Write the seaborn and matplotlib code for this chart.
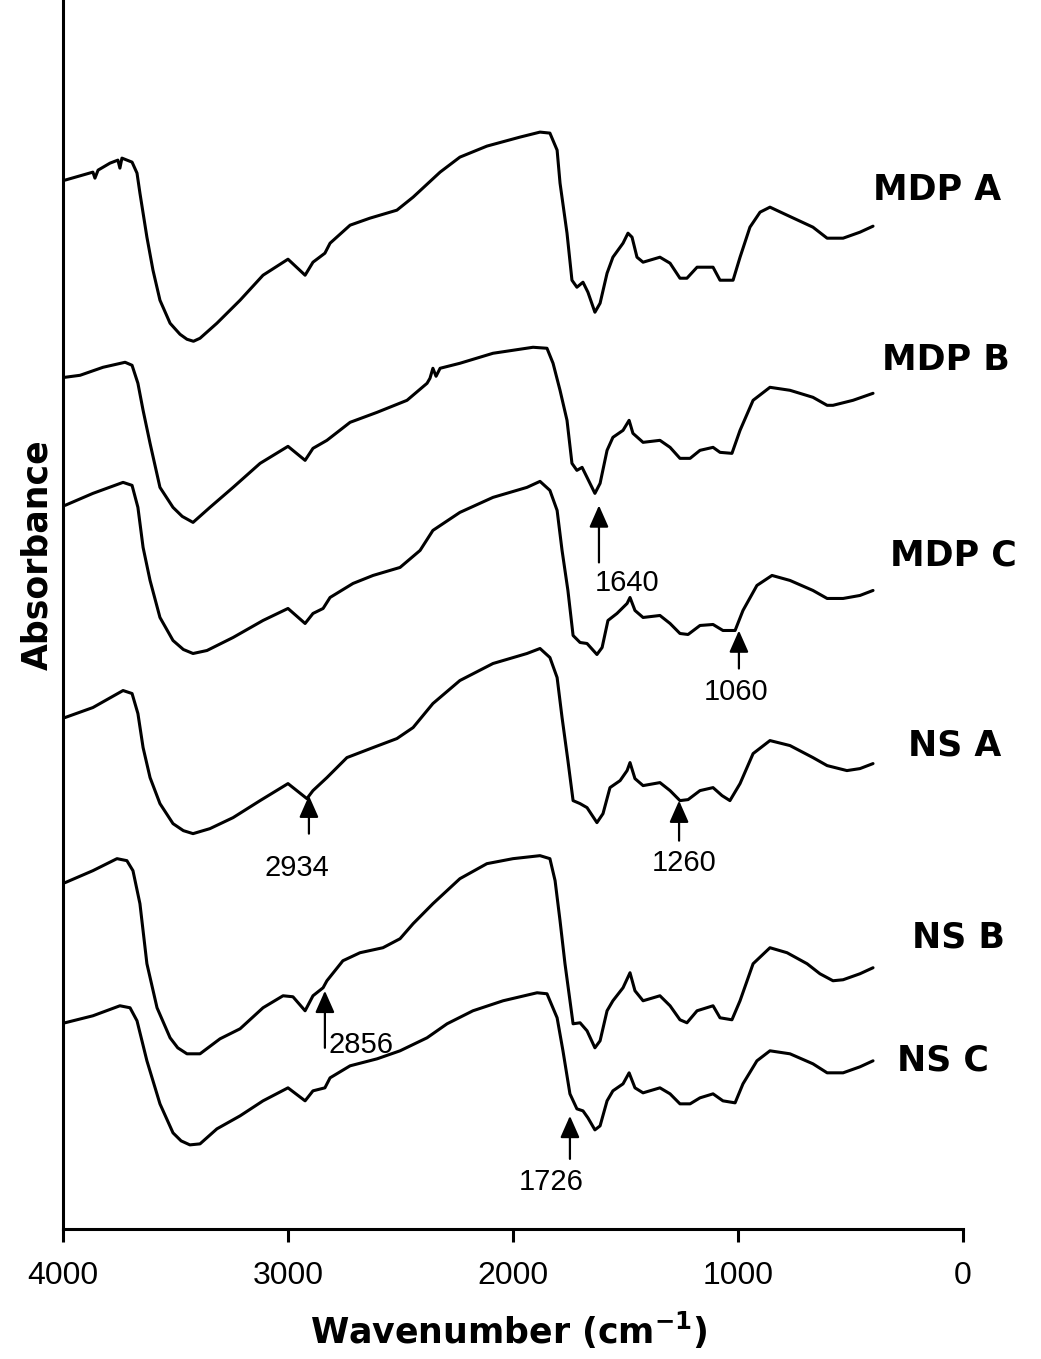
import pandas as pd
import matplotlib
matplotlib.use("Agg")
import matplotlib.pyplot as plt
import seaborn as sns

# FTIR spectra (wavenumber in cm-1, absorbance in arbitrary offset units)
mdp_a_wn = [3991, 3867, 3858, 3844, 3791, 3756, 3747, 3738, 3693, 3671, 3658, 3627, 3600, 3569, 3524,
            3480, 3449, 3420, 3391, 3316, 3213, 3111, 3000, 2924, 2889, 2836, 2813, 2724, 2636, 2516, 2444, 2324,
            2236, 2116, 1969, 1880, 1836, 1804, 1791, 1760, 1738, 1716, 1689, 1667, 1636, 1613, 1582,
            1556, 1511, 1489, 1471, 1449, 1422, 1347, 1302, 1258, 1227, 1182, 1111, 1080, 1022, 991,
            947, 902, 858, 782, 667, 604, 533, 458, 400]
mdp_a_abs = [10.48, 10.56, 10.50, 10.58, 10.65, 10.68, 10.60, 10.70, 10.66, 10.55, 10.35, 9.91, 9.58, 9.28, 9.05,
             8.94, 8.89, 8.87, 8.90, 9.05, 9.28, 9.53, 9.69, 9.53, 9.66, 9.75, 9.85, 10.03, 10.10, 10.18, 10.31, 10.56,
             10.71, 10.82, 10.91, 10.96, 10.95, 10.78, 10.45, 9.95, 9.48, 9.41, 9.46, 9.36, 9.16, 9.25, 9.55,
             9.71, 9.85, 9.95, 9.91, 9.71, 9.66, 9.71, 9.65, 9.50, 9.50, 9.61, 9.61, 9.48, 9.48, 9.71,
             10.01, 10.16, 10.21, 10.13, 10.01, 9.90, 9.90, 9.96, 10.02]

mdp_b_wn = [3991, 3924, 3822, 3724, 3693, 3667, 3644, 3613, 3569, 3511, 3470, 3422, 3347, 3244, 3124, 3000,
            2924, 2889, 2827, 2724, 2604, 2471, 2382, 2369, 2356, 2342, 2324, 2236, 2089, 1911, 1849,
            1822, 1791, 1760, 1738, 1716, 1693, 1671, 1636, 1613, 1582, 1556, 1511, 1484, 1467, 1422,
            1347, 1302, 1258, 1213, 1169, 1111, 1080, 1027, 991, 933, 858, 769, 667, 604, 578, 489, 400]
mdp_b_abs = [8.51, 8.53, 8.61, 8.66, 8.63, 8.45, 8.18, 7.85, 7.41, 7.21, 7.12, 7.06, 7.21, 7.41, 7.65, 7.82,
             7.68, 7.80, 7.88, 8.06, 8.16, 8.28, 8.45, 8.50, 8.60, 8.52, 8.60, 8.65, 8.75, 8.81, 8.80,
             8.65, 8.38, 8.08, 7.65, 7.58, 7.61, 7.51, 7.35, 7.45, 7.78, 7.91, 7.98, 8.08, 7.95, 7.86,
             7.88, 7.81, 7.70, 7.70, 7.78, 7.81, 7.76, 7.75, 7.98, 8.28, 8.41, 8.38, 8.31, 8.23, 8.23, 8.28, 8.35]

mdp_c_wn = [3991, 3867, 3733, 3693, 3667, 3644, 3613, 3569, 3511, 3465, 3422, 3360, 3244, 3111, 3000, 2924,
            2889, 2844, 2813, 2711, 2622, 2502, 2413, 2356, 2236, 2089, 1938, 1880, 1836, 1804, 1782,
            1756, 1733, 1702, 1671, 1627, 1604, 1578, 1538, 1493, 1480, 1458, 1422, 1347, 1302, 1258,
            1222, 1169, 1111, 1067, 1013, 978, 916, 849, 769, 667, 604, 533, 458, 400]
mdp_c_abs = [7.23, 7.35, 7.46, 7.43, 7.21, 6.81, 6.48, 6.11, 5.88, 5.79, 5.75, 5.78, 5.91, 6.08, 6.20, 6.05,
             6.15, 6.20, 6.31, 6.45, 6.53, 6.61, 6.78, 6.98, 7.16, 7.31, 7.41, 7.47, 7.38, 7.18, 6.78,
             6.38, 5.93, 5.86, 5.85, 5.74, 5.81, 6.08, 6.15, 6.25, 6.31, 6.18, 6.11, 6.13, 6.05, 5.95,
             5.94, 6.03, 6.04, 5.98, 5.98, 6.18, 6.43, 6.53, 6.48, 6.38, 6.30, 6.30, 6.33, 6.38]

ns_a_wn = [3991, 3867, 3733, 3693, 3667, 3644, 3613, 3569, 3511, 3465, 3422, 3347, 3244, 3124, 3000, 2916,
           2889, 2827, 2738, 2622, 2516, 2444, 2356, 2236, 2089, 1938, 1880, 1836, 1804, 1782, 1756,
           1733, 1702, 1671, 1627, 1600, 1569, 1524, 1493, 1480, 1458, 1422, 1347, 1302, 1258, 1222,
           1169, 1111, 1071, 1036, 991, 933, 858, 769, 667, 604, 516, 458, 400]
ns_a_abs = [5.11, 5.21, 5.38, 5.35, 5.15, 4.81, 4.51, 4.25, 4.05, 3.98, 3.95, 4.00, 4.11, 4.28, 4.45, 4.30,
            4.38, 4.51, 4.71, 4.81, 4.90, 5.01, 5.25, 5.48, 5.65, 5.75, 5.80, 5.71, 5.51, 5.11, 4.68,
            4.28, 4.25, 4.21, 4.06, 4.15, 4.41, 4.48, 4.58, 4.66, 4.50, 4.43, 4.46, 4.38, 4.28, 4.29,
            4.38, 4.41, 4.33, 4.28, 4.45, 4.75, 4.88, 4.83, 4.71, 4.63, 4.58, 4.60, 4.65]

ns_b_wn = [3991, 3867, 3760, 3716, 3689, 3658, 3627, 3582, 3524, 3490, 3449, 3391, 3302, 3213, 3111, 3022,
           2978, 2924, 2889, 2844, 2827, 2756, 2680, 2578, 2502, 2444, 2356, 2236, 2116, 2000, 1880,
           1836, 1813, 1791, 1769, 1733, 1702, 1671, 1636, 1613, 1582, 1556, 1511, 1480, 1458, 1422,
           1347, 1302, 1258, 1227, 1182, 1111, 1080, 1027, 991, 933, 858, 782, 693, 636, 578, 533, 458, 400]
ns_b_abs = [3.46, 3.58, 3.70, 3.68, 3.58, 3.25, 2.65, 2.21, 1.91, 1.81, 1.75, 1.75, 1.90, 2.00, 2.21, 2.33,
            2.32, 2.18, 2.33, 2.41, 2.48, 2.68, 2.76, 2.81, 2.90, 3.05, 3.25, 3.50, 3.65, 3.70, 3.73,
            3.70, 3.48, 3.08, 2.65, 2.05, 2.06, 1.98, 1.81, 1.88, 2.18, 2.28, 2.41, 2.56, 2.38, 2.28,
            2.33, 2.23, 2.09, 2.06, 2.18, 2.23, 2.11, 2.09, 2.28, 2.65, 2.81, 2.76, 2.65, 2.55, 2.48, 2.49, 2.55, 2.61]

ns_c_wn = [3991, 3867, 3747, 3702, 3671, 3627, 3569, 3511, 3475, 3436, 3391, 3316, 3213, 3111, 3000, 2924,
           2889, 2836, 2813, 2724, 2604, 2502, 2382, 2293, 2178, 2044, 1893, 1849, 1804, 1778, 1747,
           1716, 1689, 1667, 1636, 1613, 1582, 1556, 1511, 1484, 1458, 1422, 1347, 1302, 1258, 1213,
           1169, 1111, 1067, 1013, 978, 916, 858, 769, 667, 604, 533, 458, 400]
ns_c_abs = [2.06, 2.13, 2.23, 2.21, 2.08, 1.68, 1.25, 0.96, 0.88, 0.84, 0.85, 1.00, 1.13, 1.28, 1.41, 1.28,
            1.38, 1.41, 1.51, 1.63, 1.70, 1.78, 1.91, 2.05, 2.18, 2.28, 2.36, 2.35, 2.11, 1.78, 1.35,
            1.20, 1.18, 1.11, 0.99, 1.03, 1.28, 1.38, 1.45, 1.56, 1.41, 1.36, 1.41, 1.35, 1.25, 1.25,
            1.31, 1.35, 1.28, 1.26, 1.45, 1.68, 1.78, 1.75, 1.65, 1.56, 1.56, 1.62, 1.68]

sample_names = ["MDP A", "MDP B", "MDP C", "NS A", "NS B", "NS C"]

# marked bands: label, arrow x (cm-1), arrow tip height
peak_labels = ["1640", "1060", "2934", "1260", "2856", "1726"]
peak_wn = [1618, 996, 2907, 1262, 2836, 1747]
peak_tip = [7.23, 5.98, 4.33, 4.28, 2.38, 1.13]

# build long table
frames = []
for name, wn, ab in zip(sample_names,
                        [mdp_a_wn, mdp_b_wn, mdp_c_wn, ns_a_wn, ns_b_wn, ns_c_wn],
                        [mdp_a_abs, mdp_b_abs, mdp_c_abs, ns_a_abs, ns_b_abs, ns_c_abs]):
    frames.append(pd.DataFrame({"wavenumber": wn, "absorbance": ab, "sample": name}))
df = pd.concat(frames, ignore_index=True)

sns.set_style("white")
plt.rcParams["font.family"] = ["Liberation Sans", "DejaVu Sans"]
plt.rcParams["mathtext.default"] = "regular"
plt.rcParams["text.color"] = "black"
plt.rcParams["xtick.color"] = "black"
plt.rcParams["axes.labelcolor"] = "black"
plt.rcParams["lines.solid_joinstyle"] = "round"

fig = plt.figure(figsize=(10.41, 13.59), dpi=100)
ax = fig.add_axes([0.0605, 0.0957, 0.8646, 0.9043])

sns.lineplot(data=df, x="wavenumber", y="absorbance", hue="sample", units="sample",
             palette=["black"] * 6, estimator=None, sort=False, legend=False,
             linewidth=2.2, ax=ax)

ax.set_xlim(4000, 0)
ax.set_ylim(0, 12.28)
ax.set_xticks([4000, 3000, 2000, 1000, 0])
ax.set_xlabel("")
ax.set_ylabel("")
ax.tick_params(axis="x", direction="out", length=9, width=2.2, pad=14, labelsize=23,
               bottom=True, colors="black")
ax.tick_params(axis="y", left=False, labelleft=False)
for s in ["top", "right"]:
    ax.spines[s].set_visible(False)
for s in ["left", "bottom"]:
    ax.spines[s].set_linewidth(2.2)
    ax.spines[s].set_color("black")

# sample names at the right end of each trace
name_pos = [(116, 10.38), (76, 8.68), (44, 6.73), (36, 4.83), (22, 2.91), (89, 1.68)]
for name, (x, y) in zip(sample_names, name_pos):
    ax.text(x, y, name, ha="center", va="center", fontsize=25, fontweight="bold",
            family="DejaVu Sans", color="black", clip_on=False)

# peak arrows and labels
tails = [6.66, 5.60, 3.95, 3.88, 1.81, 0.70]
label_pos = [(1493, 6.45, "center"), (1009, 5.37, "center"), (2960, 3.61, "center"),
             (1240, 3.66, "center"), (2822, 1.84, "left"), (1831, 0.47, "center")]
for lab, x, tip, tail, (lx, ly, ha) in zip(peak_labels, peak_wn, peak_tip, tails, label_pos):
    ax.annotate("", xy=(x, tip), xytext=(x, tail),
                arrowprops=dict(arrowstyle="-|>,head_length=0.95,head_width=0.42",
                                mutation_scale=14, color="black", lw=1.6,
                                shrinkA=0, shrinkB=0))
    ax.text(lx, ly, lab, ha=ha, va="center", fontsize=21, color="black")

fig.text(37 / 1041, 1 - 555 / 1359, "Absorbance", rotation=90, ha="center", va="center",
         fontsize=25, fontweight="bold", family="DejaVu Sans", color="black")
fig.text(509 / 1041, 1 - 1330 / 1359, "Wavenumber (cm$^{-1}$)", ha="center", va="center",
         fontsize=25, fontweight="bold", family="DejaVu Sans", color="black")

plt.savefig("out.png", dpi=100)
